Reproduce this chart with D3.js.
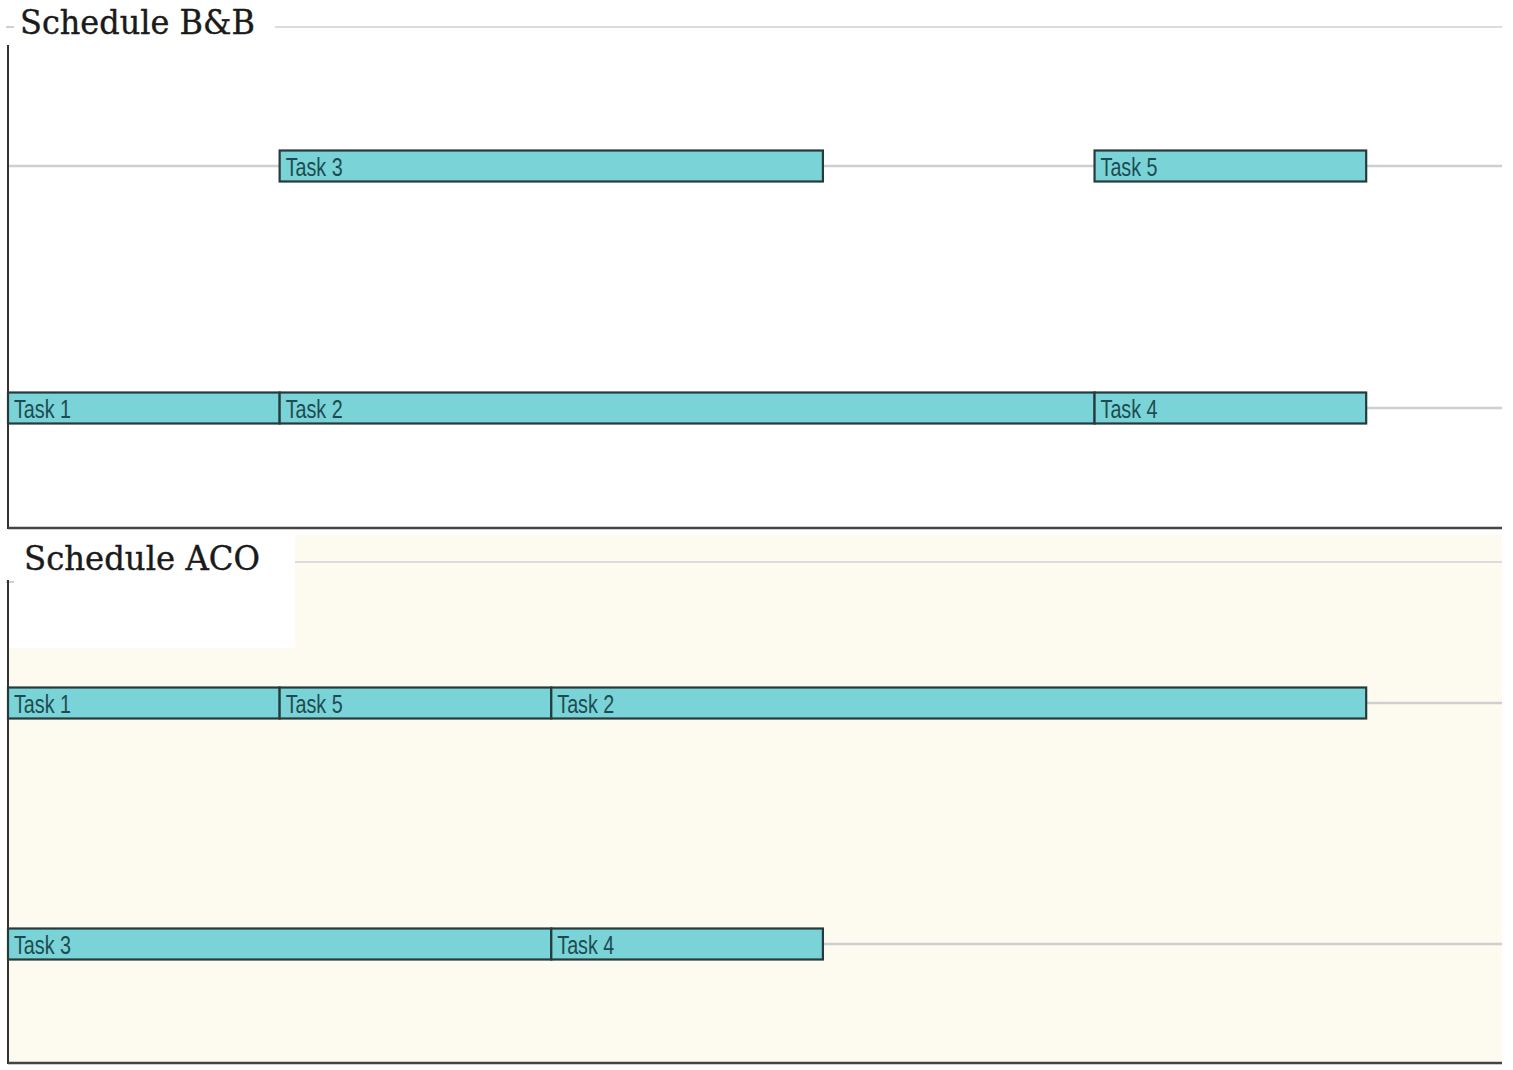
<!DOCTYPE html>
<html><head><meta charset="utf-8">
<script src="https://cdn.jsdelivr.net/npm/d3@7"></script>
<style>html,body{margin:0;padding:0;background:#fff;}svg{display:block;}</style>
</head><body>
<svg id="c" width="1513" height="1070"></svg>
<script>
// ---- data ----
const panelTitles = ["Schedule B&B", "Schedule ACO"];
const machines = ["M1", "M2"];
// B&B schedule
const bbTasks = ["Task 3", "Task 5", "Task 1", "Task 2", "Task 4"];
const bbMachine = ["M1", "M1", "M2", "M2", "M2"];
const bbStart = [1, 4, 0, 1, 4];
const bbEnd = [3, 5, 1, 4, 5];
// ACO schedule
const acoTasks = ["Task 1", "Task 5", "Task 2", "Task 3", "Task 4"];
const acoMachine = ["M1", "M1", "M1", "M2", "M2"];
const acoStart = [0, 1, 2, 0, 2];
const acoEnd = [1, 2, 5, 2, 3];
const timeDomain = [0, 5.5];

const svg = d3.select("#c");
const x = d3.scaleLinear().domain(timeDomain).range([8, 1502]);

const panels = [
  {title: panelTitles[0], tasks: bbTasks, m: bbMachine, s: bbStart, e: bbEnd,
   top: 0, frameY: 27, titleX: 20, titleY: 34, titleW: 235, gapEnd: 275, axisTop: 45, bottom: 528,
   rows: [166, 408], bg: "#ffffff", box: null},
  {title: panelTitles[1], tasks: acoTasks, m: acoMachine, s: acoStart, e: acoEnd,
   top: 535, frameY: 562, titleX: 24, titleY: 570, titleW: 236, gapEnd: 295, axisTop: 580, bottom: 1063,
   rows: [703, 944], bg: "#fdfbf0", box: [8, 535, 287, 113]}
];

panels.forEach(p => {
  const g = svg.append("g");
  g.append("rect").attr("x", 8).attr("y", p.top).attr("width", 1494).attr("height", p.bottom - p.top + 2).attr("fill", p.bg);
  if (p.box) g.append("rect").attr("x", p.box[0]).attr("y", p.box[1]).attr("width", p.box[2]).attr("height", p.box[3]).attr("fill", "#ffffff");
  g.append("line").attr("x1", p.gapEnd).attr("x2", 1502).attr("y1", p.frameY).attr("y2", p.frameY).attr("stroke", "#dcdcdc").attr("stroke-width", 2);
  const tickY = p.top ? p.frameY + 20 : p.frameY;
  g.append("line").attr("x1", 6).attr("x2", 14).attr("y1", tickY).attr("y2", tickY).attr("stroke", "#d0d0d0").attr("stroke-width", 2);
  g.append("text").attr("x", p.titleX).attr("y", p.titleY).text(p.title)
    .attr("font-family", "DejaVu Serif").attr("font-size", 34).attr("fill", "#1a1a1a")
    .attr("stroke", "#1a1a1a").attr("stroke-width", 0.4)
    .attr("textLength", p.titleW).attr("lengthAdjust", "spacingAndGlyphs");

  const y = d3.scaleOrdinal().domain(machines).range(p.rows);
  machines.forEach(m => {
    g.append("line").attr("x1", x(timeDomain[0])).attr("x2", x(timeDomain[1])).attr("y1", y(m)).attr("y2", y(m))
      .attr("stroke", "#cfcfcf").attr("stroke-width", 2.5);
  });
  g.append("line").attr("x1", 8).attr("x2", 8).attr("y1", p.axisTop).attr("y2", p.bottom + 1).attr("stroke", "#333").attr("stroke-width", 2);
  g.append("line").attr("x1", 8).attr("x2", 1502).attr("y1", p.bottom).attr("y2", p.bottom).attr("stroke", "#444").attr("stroke-width", 2.5);

  const data = p.tasks.map((t, i) => ({t, m: p.m[i], s: p.s[i], e: p.e[i]}));
  const bh = 31;
  const bars = g.selectAll("g.bar").data(data).join("g").attr("class", "bar");
  bars.append("rect").attr("x", d => x(d.s)).attr("y", d => y(d.m) - bh / 2)
    .attr("width", d => x(d.e) - x(d.s)).attr("height", bh)
    .attr("fill", "#7ad3d6").attr("stroke", "#263a3c").attr("stroke-width", 2.2);
  bars.append("text").attr("x", d => x(d.s) + 6).attr("y", d => y(d.m) + 10).text(d => d.t)
    .attr("font-family", "Liberation Sans").attr("font-size", 25).attr("fill", "#1d4b52")
    .attr("textLength", 57).attr("lengthAdjust", "spacingAndGlyphs");
});
</script>
</body></html>
